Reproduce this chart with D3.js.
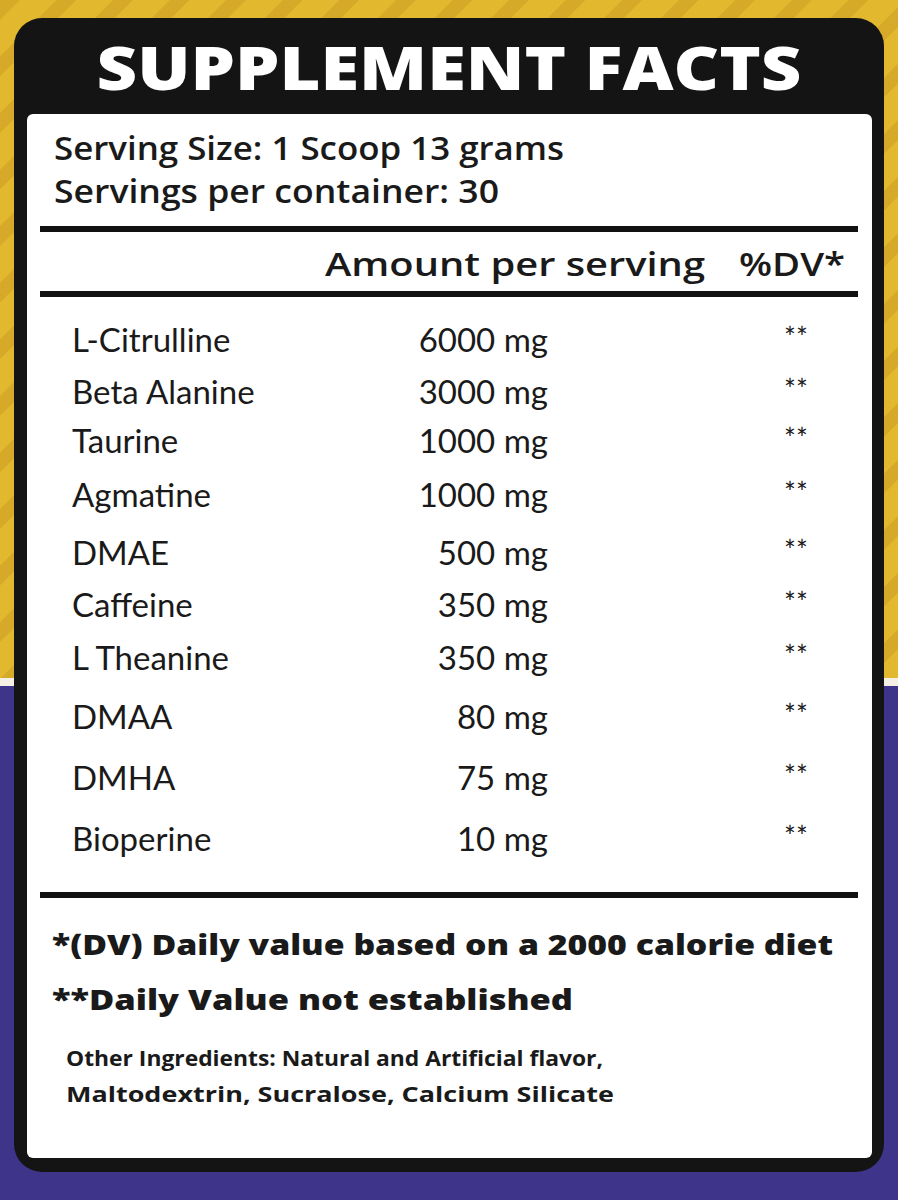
<!DOCTYPE html><html><head><meta charset="utf-8"><script src="https://cdn.jsdelivr.net/npm/d3@7"></script>
<style>body{margin:0}svg{display:block}</style></head><body><script>
const names=["L-Citrulline","Beta Alanine","Taurine","Agmatine","DMAE","Caffeine","L Theanine","DMAA","DMHA","Bioperine"];
const amounts=[6000,3000,1000,1000,500,350,350,80,75,10];
const rowY=[352,404,453,507,565,617,670,729,790,851];
const W=898,H=1200;
const svg=d3.select("body").append("svg").attr("width",W).attr("height",H);
const defs=svg.append("defs");
const p=defs.append("pattern").attr("id","st").attr("width",40).attr("height",40).attr("patternUnits","userSpaceOnUse").attr("patternTransform","rotate(45)");
p.append("rect").attr("width",40).attr("height",40).attr("fill","#e2b92e");
p.append("rect").attr("width",14).attr("height",40).attr("fill","#d6a928");
svg.append("rect").attr("width",W).attr("height",680).attr("fill","url(#st)");
svg.append("rect").attr("y",678).attr("width",W).attr("height",8).attr("fill","#f4f0e6");
svg.append("rect").attr("y",686).attr("width",W).attr("height",H-686).attr("fill","#3e3489");
svg.append("rect").attr("x",14).attr("y",18).attr("width",870).attr("height",1154).attr("rx",28).attr("fill","#141414");
svg.append("rect").attr("x",27).attr("y",114).attr("width",845).attr("height",1044).attr("rx",6).attr("fill","#fff");
const T=(x,y,t,s,w,a,f)=>svg.append("text").attr("x",x).attr("y",y).text(t).attr("font-size",s).attr("font-weight",w).attr("text-anchor",a||"start").attr("font-family",f||"Lato, sans-serif").attr("fill","#1a1a1a");
T(449,90,"SUPPLEMENT FACTS",60,900,"middle","'Open Sans', sans-serif").attr("fill","#fff").attr("textLength",705).attr("lengthAdjust","spacingAndGlyphs");
T(54,160,"Serving Size: 1 Scoop 13 grams",32,600,"start","'Open Sans', sans-serif").attr("textLength",510).attr("lengthAdjust","spacingAndGlyphs");
T(54,203,"Servings per container: 30",32,600,"start","'Open Sans', sans-serif").attr("textLength",445).attr("lengthAdjust","spacingAndGlyphs");
const line=(y,h)=>svg.append("rect").attr("x",40).attr("y",y-h/2).attr("width",818).attr("height",h).attr("fill","#111");
line(229,6);line(294,6);line(895,6);
T(325,276,"Amount per serving",32,600,"start","'Open Sans', sans-serif").attr("textLength",380).attr("lengthAdjust","spacingAndGlyphs");
T(739,276,"%DV*",32,600,"start","'Open Sans', sans-serif").attr("textLength",106).attr("lengthAdjust","spacingAndGlyphs");
names.forEach((n,i)=>{
 T(72,rowY[i],n,33,400);
 T(548,rowY[i],amounts[i]+" mg",33,400,"end");
 T(796,rowY[i]-4,"**",28,400,"middle");
});
T(52,955,"*(DV) Daily value based on a 2000 calorie diet",29,800,"start","'Open Sans', sans-serif").attr("textLength",781).attr("lengthAdjust","spacingAndGlyphs");
T(52,1010,"**Daily Value not established",29,800,"start","'Open Sans', sans-serif").attr("textLength",521).attr("lengthAdjust","spacingAndGlyphs");
T(66,1066,"Other Ingredients: Natural and Artificial flavor,",22,700,"start","'Open Sans', sans-serif").attr("textLength",537).attr("lengthAdjust","spacingAndGlyphs");
T(66,1102,"Maltodextrin, Sucralose, Calcium Silicate",22,700,"start","'Open Sans', sans-serif").attr("textLength",548).attr("lengthAdjust","spacingAndGlyphs");
</script></body></html>
